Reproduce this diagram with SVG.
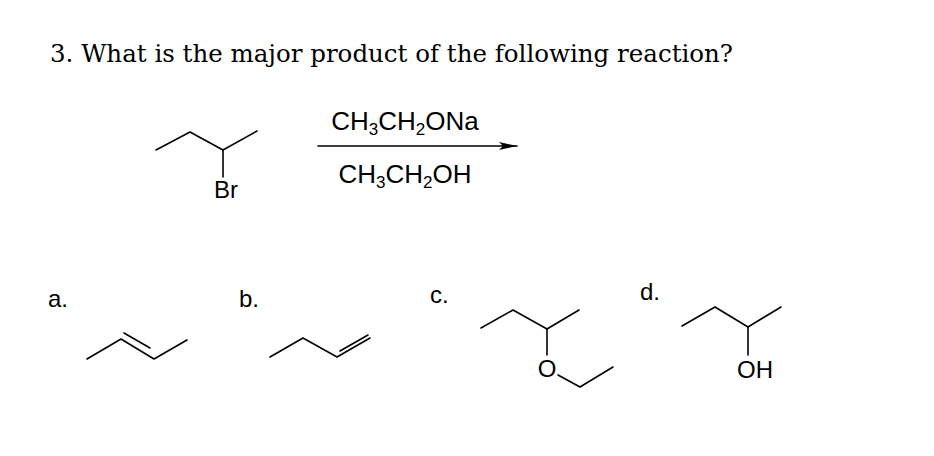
<svg xmlns="http://www.w3.org/2000/svg" width="934" height="456" viewBox="0 0 934 456">
<style>
.b{fill:none;stroke:#000;stroke-width:1.6;stroke-linecap:round;stroke-linejoin:round}
.t{font-family:"Liberation Sans",Arial,sans-serif;font-size:24px;fill:#000}
.r{font-size:26px}
.s{font-size:17px}
.h{font-family:"DejaVu Serif","Liberation Serif",serif;font-size:25px;fill:#000}
</style>
<defs><marker id="ah" viewBox="0 0 18 8" refX="18" refY="4" markerWidth="18" markerHeight="8" markerUnits="userSpaceOnUse" orient="auto"><path d="M0,0L18,4L0,8L4,4Z" fill="#000"/></marker></defs>
<rect width="934" height="456" fill="#fff"/>
<text class="h" x="50" y="62" textLength="683" lengthAdjust="spacingAndGlyphs">3. What is the major product of the following reaction?</text>
<g id="reactant">
<polyline class="b" points="156,150 190,132 223,150 257,131"/>
<line class="b" x1="223" y1="150" x2="223" y2="177"/>
<text class="t" x="226" y="198" text-anchor="middle">Br</text>
</g>
<g id="connectors">
<line class="b" x1="318" y1="146" x2="517" y2="146" marker-end="url(#ah)"/>
</g>
<g id="reagents">
<text class="t r" x="405" y="130" text-anchor="middle">CH<tspan class="s" dy="5">3</tspan><tspan dy="-5">CH</tspan><tspan class="s" dy="5">2</tspan><tspan dy="-5">ONa</tspan></text>
<text class="t r" x="405" y="183" text-anchor="middle">CH<tspan class="s" dy="5">3</tspan><tspan dy="-5">CH</tspan><tspan class="s" dy="5">2</tspan><tspan dy="-5">OH</tspan></text>
</g>
<g id="a">
<text class="t" x="48" y="307">a.</text>
<polyline class="b" points="87,359 121,339 154,359 187,340"/>
<line class="b" x1="124" y1="333" x2="150" y2="348"/>
</g>
<g id="b">
<text class="t" x="239" y="307">b.</text>
<polyline class="b" points="270,357 303,338 337,357 370,338"/>
<line class="b" x1="340" y1="351" x2="368" y2="335"/>
</g>
<g id="c">
<text class="t" x="430" y="303">c.</text>
<polyline class="b" points="481,328 513,310 547,329 579,310"/>
<line class="b" x1="547" y1="329" x2="547" y2="355"/>
<text class="t" x="547" y="377" text-anchor="middle">O</text>
<polyline class="b" points="558,375 580,387 613,367"/>
</g>
<g id="d">
<text class="t" x="640" y="300">d.</text>
<polyline class="b" points="682,326 715,307 748,327 781,307"/>
<line class="b" x1="748" y1="327" x2="748" y2="355"/>
<text class="t" x="755" y="378" text-anchor="middle">OH</text>
</g>
</svg>
